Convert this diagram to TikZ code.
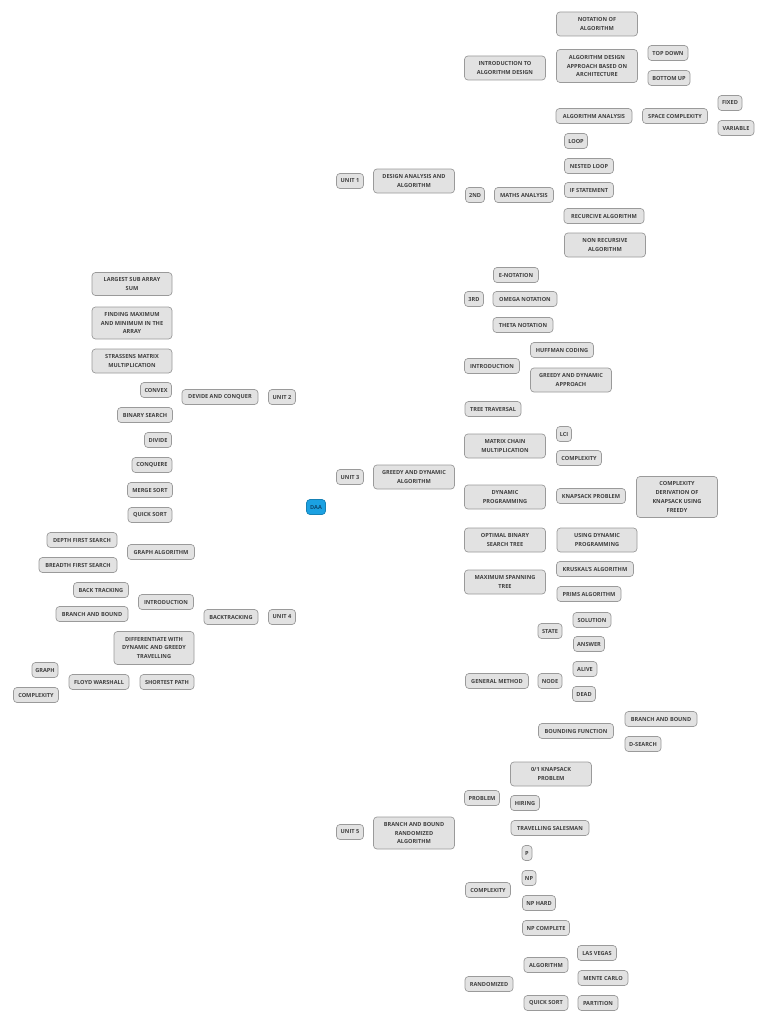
\documentclass[tikz,border=0pt]{standalone}
\usepackage{fontspec}
\setmainfont{Open Sans}
\usetikzlibrary{backgrounds}
\definecolor{boxfill}{HTML}{E2E2E2}
\definecolor{boxline}{HTML}{9A9A9A}
\definecolor{boxtext}{HTML}{404040}
\definecolor{rootfill}{HTML}{1BA1E2}
\definecolor{roottext}{HTML}{0B4A73}
\tikzset{
  box/.style={draw=boxline,fill=boxfill,rounded corners=2.6pt,line width=0.5pt,
    text=boxtext,font=\fontsize{4.2}{6.6}\selectfont\bfseries,align=center,inner sep=0pt},
  rootbox/.style={box,fill=rootfill,draw=rootfill!80!black,text=roottext},
  conn/.style={draw=boxline,line width=0.5pt}
}
\newcommand\N[6]{\node[box,minimum width=#4*0.75pt,minimum height=#5*0.75pt] (#1) at (#2,#3) {#6};}
\newcommand\Fr[2]{\draw[conn] (#1.center) .. controls (#1.center|-#2.west) and (#1.center|-#2.west) .. (#2.west);}
\newcommand\Fl[2]{\draw[conn] (#1.center) .. controls (#1.center|-#2.east) and (#1.center|-#2.east) .. (#2.east);}
\newcommand\Er[2]{\draw[conn] (#1.east) to[out=0,in=180] (#2.west);}
\newcommand\El[2]{\draw[conn] (#1.west) to[out=180,in=0] (#2.east);}
\begin{document}
\begin{tikzpicture}[x=0.75pt,y=-0.75pt]
\fill[white] (0,0) rectangle (768,1024);
\useasboundingbox (0,0) rectangle (768,1024);
% root
\node[rootbox,minimum width=19*0.75pt,minimum height=15*0.75pt] (daa) at (316,507) {DAA};
% unit 1
\N{u1}{350}{181}{27}{15}{UNIT 1}
\N{dsa}{414}{181}{81}{24}{DESIGN ANALYSIS AND\\ALGORITHM}
\N{intro}{505}{68}{81}{24}{INTRODUCTION TO\\ALGORITHM DESIGN}
\N{notation}{597}{24}{81}{24}{NOTATION OF\\ALGORITHM}
\N{algdes}{597}{66}{81}{33}{ALGORITHM DESIGN\\APPROACH BASED ON\\ARCHITECTURE}
\N{topdown}{668}{53}{40}{15}{TOP DOWN}
\N{bottomup}{669}{78}{42}{15}{BOTTOM UP}
\N{alganal}{594}{116}{76}{15}{ALGORITHM ANALYSIS}
\N{space}{675}{116}{65}{15}{SPACE COMPLEXITY}
\N{fixed}{730}{103}{24}{15}{FIXED}
\N{variable}{736}{128}{36}{15}{VARIABLE}
\N{second}{475}{195}{19}{15}{2ND}
\N{maths}{524}{195}{59}{15}{MATHS ANALYSIS}
\N{loop}{576}{141}{23}{15}{LOOP}
\N{nested}{589}{166}{49}{15}{NESTED LOOP}
\N{ifst}{589}{190}{49}{15}{IF STATEMENT}
\N{recur}{604}{216}{80}{15}{RECURCIVE ALGORITHM}
\N{nonrec}{605}{245}{81}{24}{NON RECURSIVE\\ALGORITHM}
\N{third}{474}{299}{19}{15}{3RD}
\N{enot}{516}{275}{45}{15}{E-NOTATION}
\N{omega}{525}{299}{64}{15}{OMEGA NOTATION}
\N{theta}{523}{325}{60}{15}{THETA NOTATION}
% unit 3
\N{u3}{350}{477}{27}{15}{UNIT 3}
\N{greedy}{414}{477}{81}{24}{GREEDY AND DYNAMIC\\ALGORITHM}
\N{intro3}{492}{366}{55}{15}{INTRODUCTION}
\N{huff}{562}{350}{63}{15}{HUFFMAN CODING}
\N{gda}{571}{380}{81}{24}{GREEDY AND DYNAMIC\\APPROACH}
\N{tree}{493}{409}{56}{15}{TREE TRAVERSAL}
\N{matrix}{505}{446}{81}{24}{MATRIX CHAIN\\MULTIPLICATION}
\N{lci}{564}{434}{15}{15}{LCI}
\N{compl3}{579}{458}{45}{15}{COMPLEXITY}
\N{dyn}{505}{497}{81}{24}{DYNAMIC\\PROGRAMMING}
\N{knap}{591}{496}{69}{15}{KNAPSACK PROBLEM}
\N{cdk}{677}{497}{81}{41}{COMPLEXITY\\DERIVATION OF\\KNAPSACK USING\\FREEDY}
\N{obst}{505}{540}{81}{24}{OPTIMAL BINARY\\SEARCH TREE}
\N{usingdp}{597}{540}{80}{24}{USING DYNAMIC\\PROGRAMMING}
\N{mst}{505}{582}{81}{24}{MAXIMUM SPANNING\\TREE}
\N{krus}{595}{569}{77}{15}{KRUSKAL'S ALGORITHM}
\N{prims}{589}{594}{64}{15}{PRIMS ALGORITHM}
% unit 5
\N{u5}{350}{832}{27}{15}{UNIT 5}
\N{bbr}{414}{833}{81}{32}{BRANCH AND BOUND\\RANDOMIZED\\ALGORITHM}
\N{general}{497}{681}{63}{15}{GENERAL METHOD}
\N{state}{550}{631}{24}{15}{STATE}
\N{solution}{592}{620}{38}{15}{SOLUTION}
\N{answer}{589}{644}{31}{15}{ANSWER}
\N{nodeN}{550}{681}{24}{15}{NODE}
\N{alive}{585}{669}{24}{15}{ALIVE}
\N{dead}{584}{694}{23}{15}{DEAD}
\N{bound}{576}{731}{75}{15}{BOUNDING FUNCTION}
\N{bbright}{661}{719}{72}{15}{BRANCH AND BOUND}
\N{dsearch}{643}{744}{36}{15}{D-SEARCH}
\N{problem}{482}{798}{35}{15}{PROBLEM}
\N{knap01}{551}{774}{81}{24}{0/1 KNAPSACK\\PROBLEM}
\N{hiring}{525}{803}{29}{15}{HIRING}
\N{travel}{550}{828}{78}{15}{TRAVELLING SALESMAN}
\N{compl5}{488}{890}{45}{15}{COMPLEXITY}
\N{pp}{527}{853}{10}{15}{P}
\N{np}{529}{878}{14}{15}{NP}
\N{nphard}{539}{903}{33}{15}{NP HARD}
\N{npc}{546}{928}{47}{15}{NP COMPLETE}
\N{random}{489}{984}{48}{15}{RANDOMIZED}
\N{algo}{546}{965}{44}{15}{ALGORITHM}
\N{lasv}{597}{953}{39}{15}{LAS VEGAS}
\N{mente}{603}{978}{50}{15}{MENTE CARLO}
\N{qs5}{546}{1003}{44}{15}{QUICK SORT}
\N{part}{598}{1003}{40}{15}{PARTITION}
% unit 2
\N{u2}{282}{397}{27}{15}{UNIT 2}
\N{dc}{220}{397}{76}{15}{DEVIDE AND CONQUER}
\N{largest}{132}{284}{80}{23}{LARGEST SUB ARRAY\\SUM}
\N{finding}{132}{323}{80}{32}{FINDING MAXIMUM\\AND MINIMUM IN THE\\ARRAY}
\N{strassen}{132}{361}{80}{24}{STRASSENS MATRIX\\MULTIPLICATION}
\N{convex}{156}{390}{31}{15}{CONVEX}
\N{binary}{145}{415}{55}{15}{BINARY SEARCH}
\N{divide}{158}{440}{27}{15}{DIVIDE}
\N{conquer}{152}{465}{40}{15}{CONQUERE}
\N{merge}{150}{490}{45}{15}{MERGE SORT}
\N{quick}{150}{515}{44}{15}{QUICK SORT}
% unit 4
\N{u4}{282}{617}{27}{15}{UNIT 4}
\N{bt}{231}{617}{54}{15}{BACKTRACKING}
\N{graphalg}{161}{552}{67}{15}{GRAPH ALGORITHM}
\N{dfs}{82}{540}{70}{15}{DEPTH FIRST SEARCH}
\N{bfs}{78}{565}{78}{15}{BREADTH FIRST SEARCH}
\N{intro4}{166}{602}{55}{15}{INTRODUCTION}
\N{backtr}{101}{590}{55}{15}{BACK TRACKING}
\N{bbleft}{92}{614}{72}{15}{BRANCH AND BOUND}
\N{diff}{154}{648}{80}{33}{DIFFERENTIATE WITH\\DYNAMIC AND GREEDY\\TRAVELLING}
\N{shortest}{167}{682}{54}{15}{SHORTEST PATH}
\N{floyd}{99}{682}{60}{15}{FLOYD WARSHALL}
\N{graph}{45}{670}{26}{15}{GRAPH}
\N{compl4}{36}{695}{45}{15}{COMPLEXITY}
\begin{scope}[on background layer]
\Fr{daa}{u1}\Fr{daa}{u3}\Fr{daa}{u5}\Fl{daa}{u2}\Fl{daa}{u4}
\Er{u1}{dsa}\Fr{dsa}{intro}\Er{dsa}{second}\Fr{dsa}{third}
\Fr{intro}{notation}\Er{intro}{algdes}\Fr{intro}{alganal}
\Er{algdes}{topdown}\Er{algdes}{bottomup}
\Er{alganal}{space}\Er{space}{fixed}\Er{space}{variable}
\Er{second}{maths}
\Fr{maths}{loop}\Fr{maths}{nested}\Er{maths}{ifst}\Fr{maths}{recur}\Fr{maths}{nonrec}
\Fr{third}{enot}\Er{third}{omega}\Fr{third}{theta}
\Er{u3}{greedy}
\Fr{greedy}{intro3}\Fr{greedy}{tree}\Fr{greedy}{matrix}\Fr{greedy}{dyn}\Fr{greedy}{obst}\Fr{greedy}{mst}
\Er{intro3}{huff}\Er{intro3}{gda}
\Er{matrix}{lci}\Er{matrix}{compl3}
\Er{dyn}{knap}\Er{knap}{cdk}\Er{obst}{usingdp}
\Er{mst}{krus}\Er{mst}{prims}
\Er{u5}{bbr}
\Fr{bbr}{general}\Fr{bbr}{problem}\Fr{bbr}{compl5}\Fr{bbr}{random}
\Fr{general}{state}\Er{general}{nodeN}\Fr{general}{bound}
\Er{state}{solution}\Er{state}{answer}
\Er{nodeN}{alive}\Er{nodeN}{dead}
\Er{bound}{bbright}\Er{bound}{dsearch}
\Fr{problem}{knap01}\Er{problem}{hiring}\Fr{problem}{travel}
\Fr{compl5}{pp}\Fr{compl5}{np}\Er{compl5}{nphard}\Fr{compl5}{npc}
\Fr{random}{algo}\Fr{random}{qs5}
\Er{algo}{lasv}\Er{algo}{mente}\Er{qs5}{part}
\El{u2}{dc}
\Fl{dc}{largest}\Fl{dc}{finding}\Fl{dc}{strassen}\El{dc}{convex}
\Fl{dc}{binary}\Fl{dc}{divide}\Fl{dc}{conquer}\Fl{dc}{merge}\Fl{dc}{quick}
\El{u4}{bt}
\Fl{bt}{graphalg}\Fl{bt}{intro4}\Fl{bt}{diff}\Fl{bt}{shortest}
\El{graphalg}{dfs}\El{graphalg}{bfs}
\El{intro4}{backtr}\El{intro4}{bbleft}
\El{shortest}{floyd}\El{floyd}{graph}\El{floyd}{compl4}
\end{scope}
\end{tikzpicture}
\end{document}
